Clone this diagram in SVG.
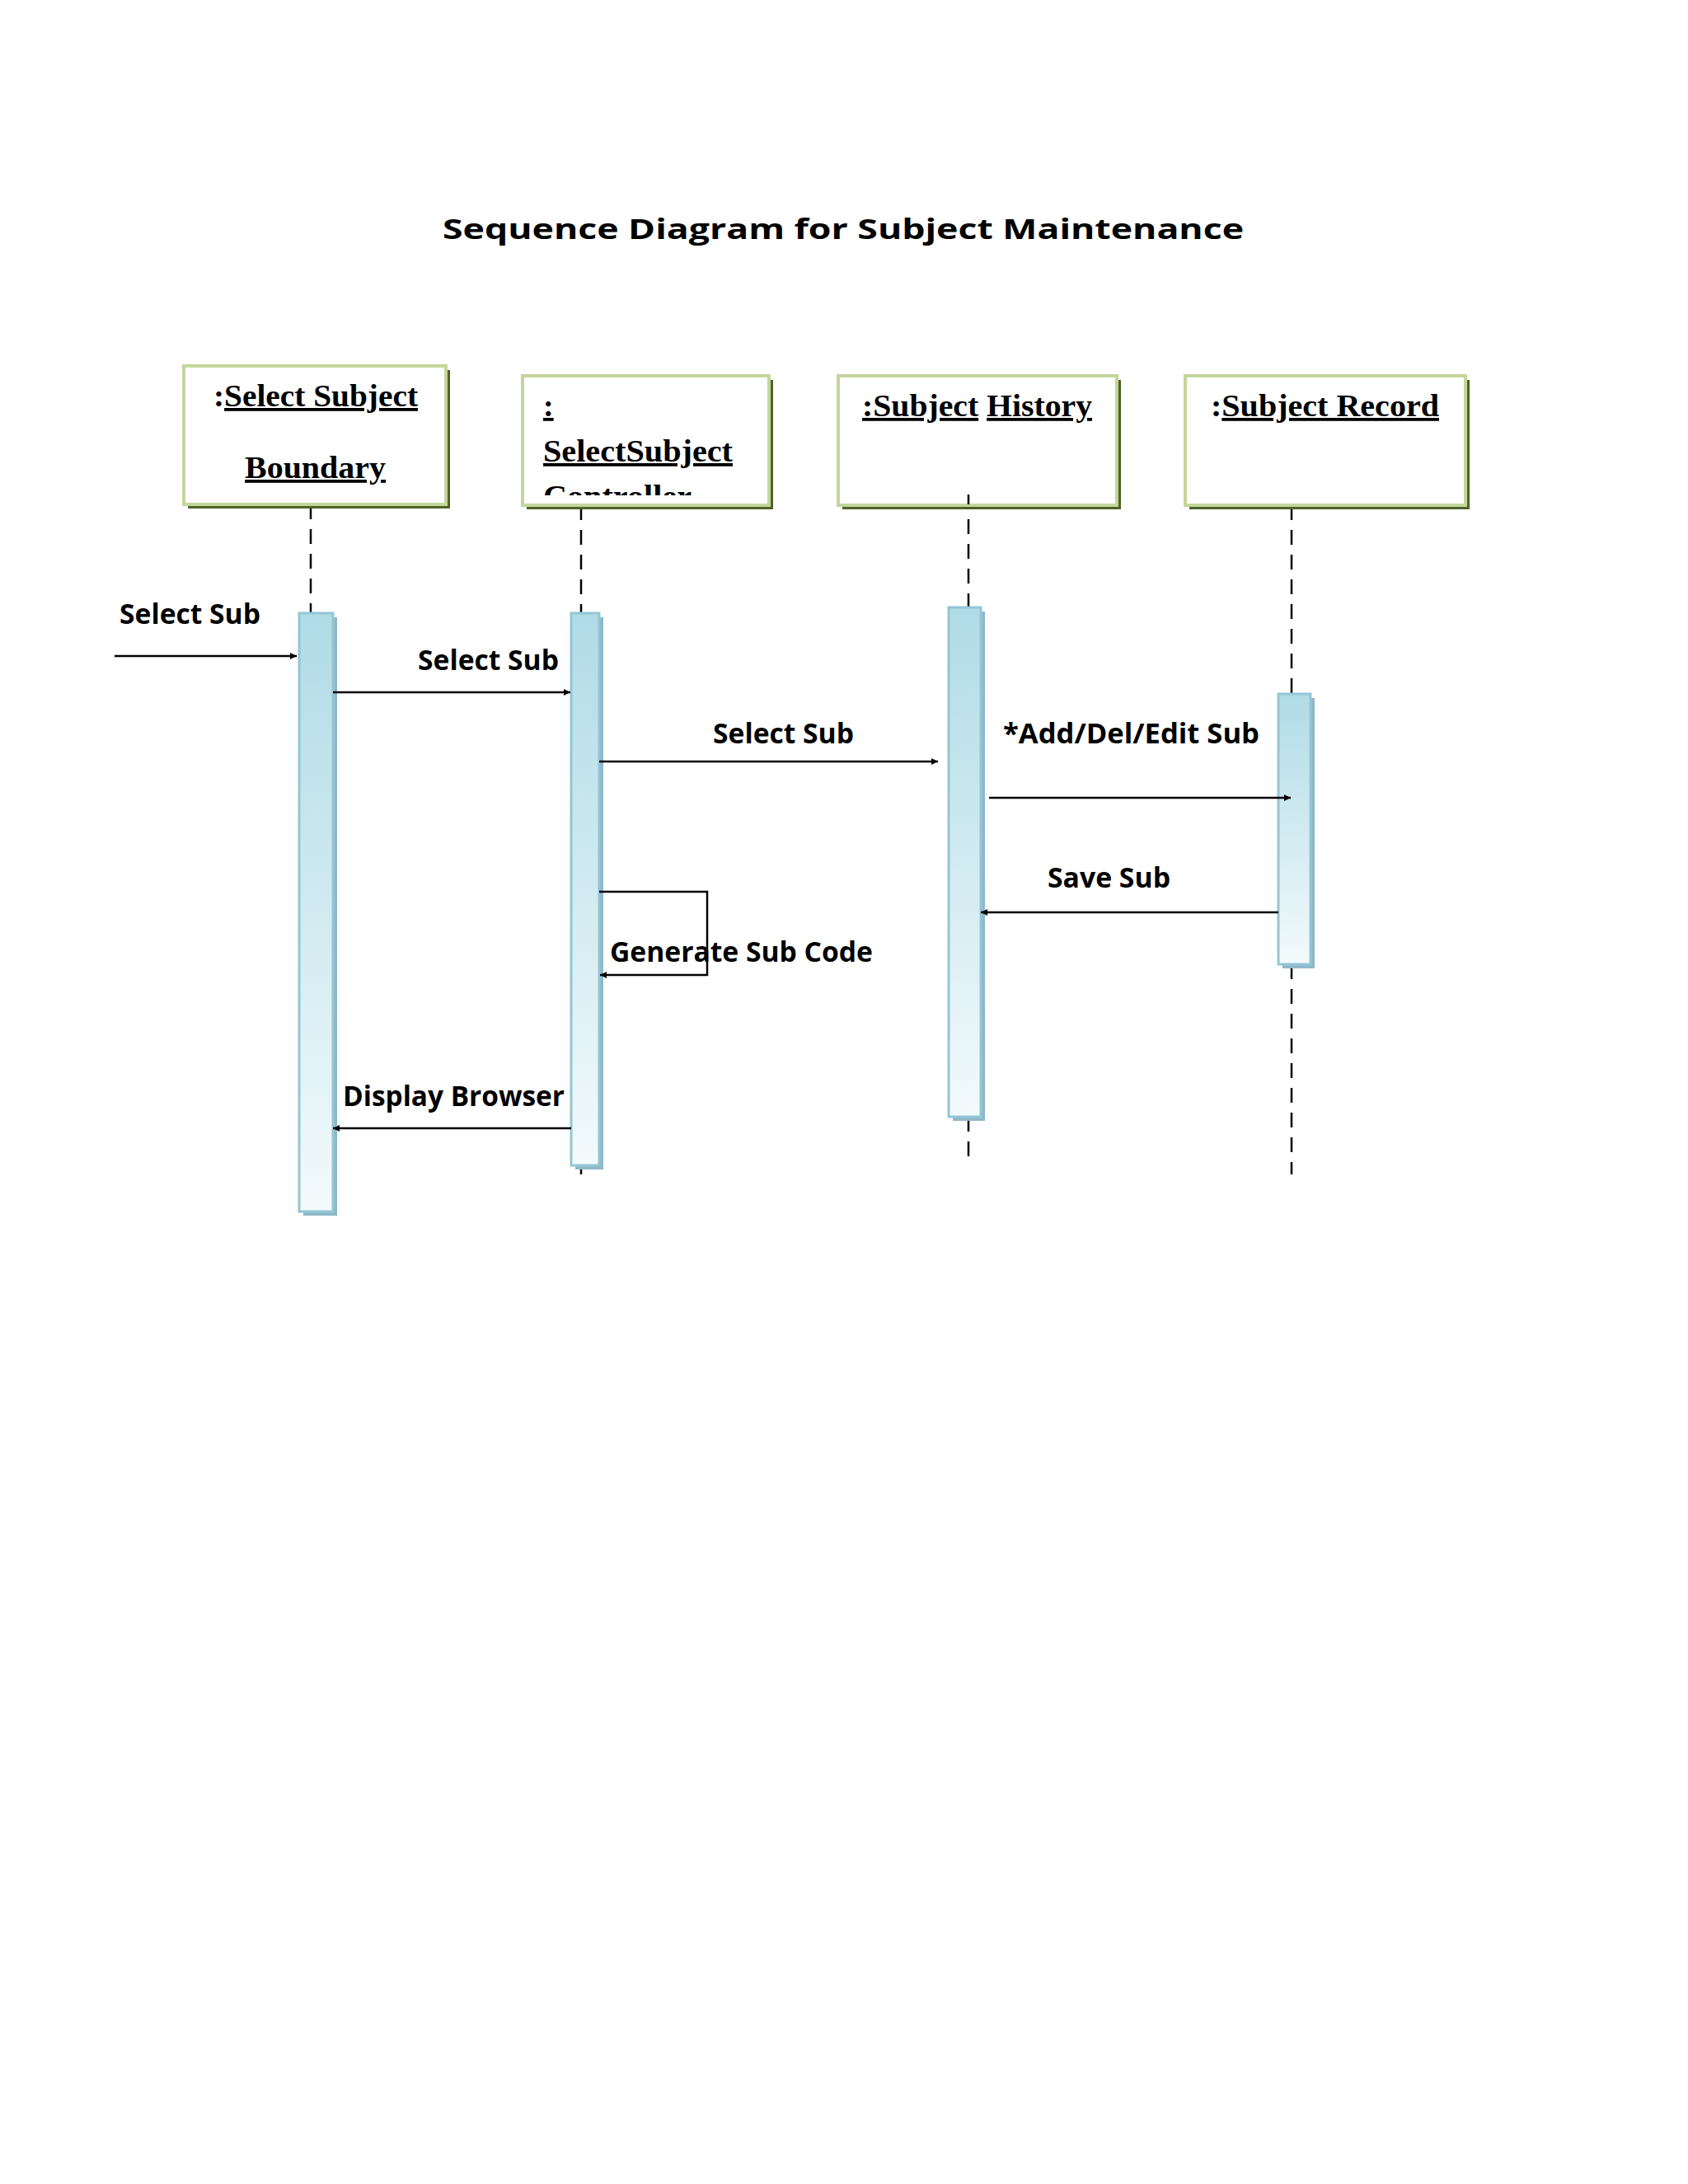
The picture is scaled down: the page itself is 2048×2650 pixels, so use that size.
<svg xmlns="http://www.w3.org/2000/svg" width="2048" height="2650" viewBox="0 0 2048 2650">
<style>
.box{fill:#fff;stroke:#c3d69b;stroke-width:4}
.shd{fill:#4f6228}
.ot{font-family:"Liberation Serif",serif;font-weight:bold;font-size:38px;fill:#000}
.u{text-decoration:underline}
.lbl{font-family:"Open Sans","Liberation Sans",sans-serif;font-weight:bold;font-size:34px;fill:#000}
.ll{stroke:#000;stroke-width:2.5;stroke-dasharray:18,12;fill:none}
.act{fill:url(#g);stroke:#93c6d6;stroke-width:3}
.ash{fill:#8fb8c8}
.msg{stroke:#000;stroke-width:2.5;fill:none;marker-end:url(#ah)}
</style>
<defs>
<linearGradient id="g" x1="0" y1="0" x2="0" y2="1"><stop offset="0" stop-color="#b0dbe6"/><stop offset="1" stop-color="#f3fafc"/></linearGradient>
<marker id="ah" viewBox="0 0 10 10" refX="10" refY="5" markerWidth="8" markerHeight="8" orient="auto" markerUnits="userSpaceOnUse"><path d="M0,0L10,5L0,10z" fill="#000" transform="scale(1)"/></marker>
<clipPath id="c2"><rect x="634" y="456" width="299" height="145"/></clipPath>
</defs>
<rect width="2048" height="2650" fill="#fff"/>
<text x="1023" y="290" text-anchor="middle" class="lbl" font-size="48" textLength="972" lengthAdjust="spacingAndGlyphs">Sequence Diagram for Subject Maintenance</text>

<g id="lifelines">
<path class="ll" d="M377 612V744M705 613V744M1175 600V737M1175 1355V1415M705 1414V1425M1567 613V842M1567 1170V1425"/>
</g>

<g id="boundary">
<rect class="shd" x="228" y="449" width="318" height="168"/>
<rect class="box" x="223" y="444" width="318" height="168"/>
<text class="ot" x="259" y="493" textLength="248" lengthAdjust="spacingAndGlyphs">:<tspan class="u">Select Subject</tspan></text>
<text class="ot u" x="297" y="580" textLength="171" lengthAdjust="spacingAndGlyphs">Boundary</text>
</g>
<g id="controller">
<rect class="shd" x="639" y="461" width="299" height="157"/>
<rect class="box" x="634" y="456" width="299" height="157"/>
<g clip-path="url(#c2)">
<text class="ot u" x="659" y="505">:</text>
<text class="ot u" x="659" y="560" textLength="230" lengthAdjust="spacingAndGlyphs">SelectSubject</text>
<text class="ot u" x="659" y="615" textLength="180" lengthAdjust="spacingAndGlyphs">Controller</text>
</g>
</g>
<g id="history">
<rect class="shd" x="1022" y="461" width="338" height="157"/>
<rect class="box" x="1017" y="456" width="338" height="157"/>
<text class="ot" x="1046" y="505" textLength="279" lengthAdjust="spacingAndGlyphs"><tspan class="u">:Subject</tspan> <tspan class="u">History</tspan></text>
</g>
<g id="record">
<rect class="shd" x="1443" y="461" width="340" height="157"/>
<rect class="box" x="1438" y="456" width="340" height="157"/>
<text class="ot" x="1469" y="505" textLength="277" lengthAdjust="spacingAndGlyphs">:<tspan class="u">Subject Record</tspan></text>
</g>
<path class="ll" d="M1175 600V612"/>

<g id="activations">
<rect class="ash" x="368" y="749" width="41" height="726"/>
<rect class="act" x="363" y="744" width="41" height="726"/>
<rect class="ash" x="698" y="749" width="34" height="670"/>
<rect class="act" x="693" y="744" width="34" height="670"/>
<rect class="ash" x="1156" y="742" width="39" height="618"/>
<rect class="act" x="1151" y="737" width="39" height="618"/>
<rect class="ash" x="1556" y="847" width="39" height="328"/>
<rect class="act" x="1551" y="842" width="39" height="328"/>
</g>

<g id="connectors">
<line class="msg" x1="139" y1="796" x2="360" y2="796"/>
<line class="msg" x1="404" y1="840" x2="692" y2="840"/>
<line class="msg" x1="727" y1="924" x2="1138" y2="924"/>
<line class="msg" x1="1200" y1="968" x2="1566" y2="968"/>
<line class="msg" x1="1551" y1="1107" x2="1190" y2="1107"/>
<path class="msg" d="M727 1082H858V1183H728"/>
<line class="msg" x1="693" y1="1369" x2="404" y2="1369"/>
</g>

<g id="labels">
<text class="lbl" x="145" y="757" textLength="171" lengthAdjust="spacingAndGlyphs">Select Sub</text>
<text class="lbl" x="507" y="813" textLength="171" lengthAdjust="spacingAndGlyphs">Select Sub</text>
<text class="lbl" x="865" y="902" textLength="171" lengthAdjust="spacingAndGlyphs">Select Sub</text>
<text class="lbl" x="1217" y="902" textLength="311" lengthAdjust="spacingAndGlyphs">*Add/Del/Edit Sub</text>
<text class="lbl" x="1271" y="1077" textLength="149" lengthAdjust="spacingAndGlyphs">Save Sub</text>
<text class="lbl" x="740" y="1167" textLength="319" lengthAdjust="spacingAndGlyphs">Generate Sub Code</text>
<text class="lbl" x="416" y="1342" textLength="269" lengthAdjust="spacingAndGlyphs">Display Browser</text>
</g>
</svg>
